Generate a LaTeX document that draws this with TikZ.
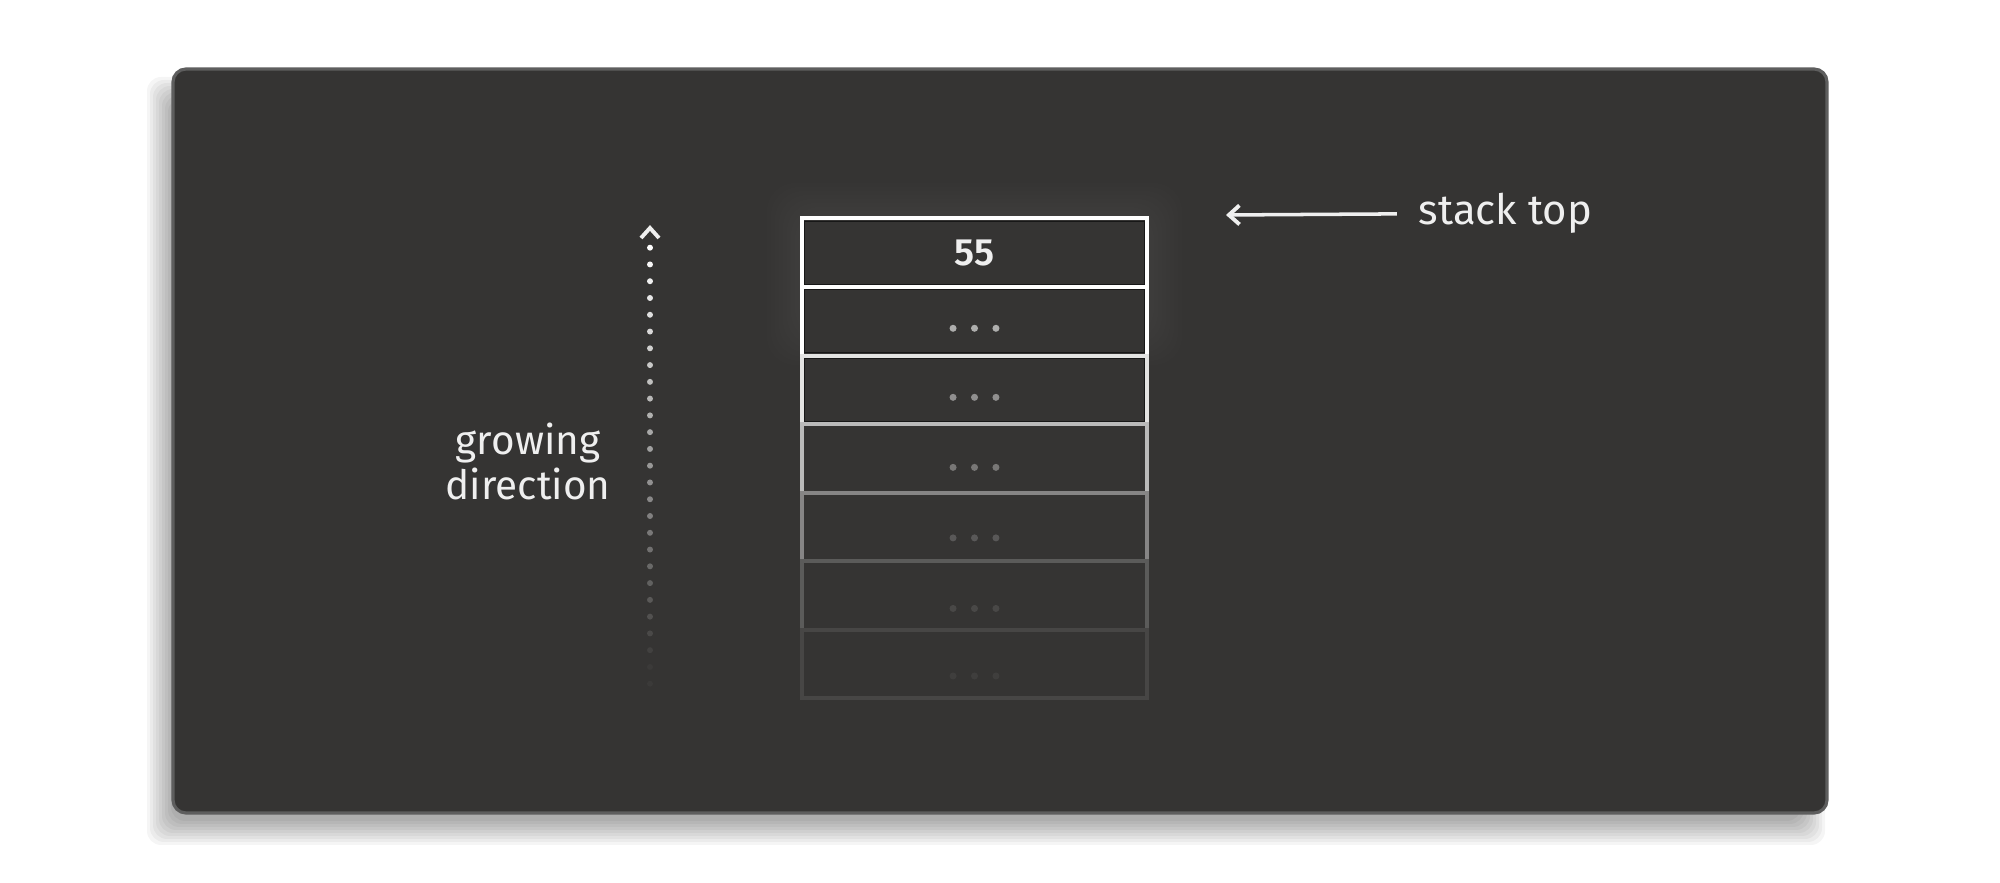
\documentclass[tikz,border=0pt]{standalone}
\usepackage{fontspec}
\setmainfont{Fira Sans}
\newfontfamily\numfont{Fira Sans SemiBold}
\usetikzlibrary{positioning,arrows.meta}

\definecolor{panelbg}{HTML}{353433}
\definecolor{panelrim}{HTML}{5E5E5E}
\definecolor{inktext}{HTML}{EFEFEF}

\tikzset{
  panel/.style={fill=panelbg, draw=panelrim, line width=0.9pt, rounded corners=3.7pt},
  cell/.style={fill=panelbg, outer sep=0pt, inner sep=0pt, line width=1.15pt,
    minimum width=3.45cm, minimum height=0.685cm, text=inktext},
  innerrim/.style={black, opacity=0.55, line width=0.3pt},
  ptr/.style={inktext, line width=1pt, -{Straight Barb[length=3pt,width=5.4pt,line width=1.1pt]}},
  lbl/.style={text=inktext, inner sep=0pt}
}

\begin{document}
\begin{tikzpicture}[x=0.01cm,y=-0.01cm]
  \useasboundingbox (0,0) rectangle (2000,883);
  \fill[white] (0,0) rectangle (2000,883);
  % soft shadow under the panel
  \foreach \e in {-12,-9,...,12}
    \fill[black, opacity=0.04, rounded corners=4pt] (159-\e,89-\e) rectangle (1813+\e,833+\e);
  \draw[panel] (173,69) rectangle (1827,813);

  % glow round the top of the stack
  \foreach \e in {3,7,...,35}
    \fill[white, opacity=0.007, rounded corners=8pt] (802-\e,218-\e) rectangle (1147+\e,330+\e);

  % the stack
  \node[cell, draw=white] (row1) at (974.5,252.75) {\numfont\fontsize{10.8pt}{12pt}\selectfont 55};
  \foreach \i/\p/\c/\d/\o in {2/1/100/60/7, 3/2/86/45/7.5, 4/3/66/33/9, 5/4/40/18/11, 6/5/19/10/13, 7/6/9/5/12} {
    \node[cell, draw=white!\c!panelbg, below=0pt of row\p] (row\i) {};
    \foreach \k in {-1,0,1}
      \fill[white!\d!panelbg] ([xshift=\k*6.1pt, yshift=-\o*0.2845pt]row\i.center) circle[radius=1pt];
  }
  \foreach \i in {1,2,3}
    \draw[innerrim] ([xshift=0.75pt,yshift=-0.75pt]row\i.north west) rectangle ([xshift=-0.75pt,yshift=0.75pt]row\i.south east);

  % growing direction
  \foreach \i in {0,...,26} {
    \pgfmathsetmacro\shade{max(3,100-\i*3.9)}
    \fill[white!\shade!panelbg] (650,247.7+\i*16.77) circle[radius=0.85pt];
  }
  \draw[inktext, line width=1.1pt] (641,238) -- (650,228) -- (659,238);
  \node[lbl, align=center, anchor=base, font=\fontsize{11.5pt}{12.8pt}\selectfont] (growlbl) at (528,500) {growing\\direction};

  % stack top pointer
  \node[lbl, anchor=base west, font=\fontsize{11.9pt}{14pt}\selectfont] (toplbl) at (1418,225) {stack top};
  \coordinate (toptip) at (1226,215);
  \draw[ptr, shorten <=6pt] (toplbl.west) -- (toptip);
\end{tikzpicture}
\end{document}
